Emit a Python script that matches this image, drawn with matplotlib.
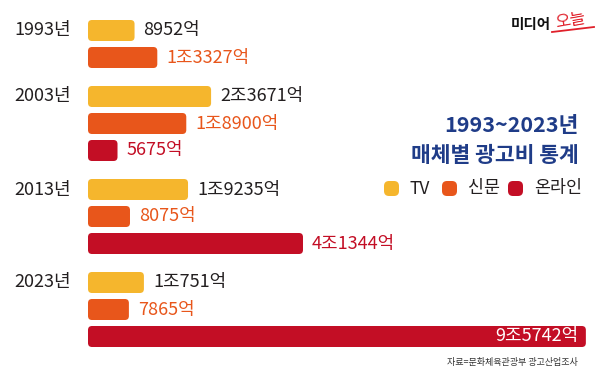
"""Media ad spend 1993-2023 — rounded horizontal bars, Korean labels."""
import matplotlib.pyplot as plt
from matplotlib.patches import FancyBboxPatch

plt.rcParams['font.family'] = ['Noto Sans CJK KR', 'DejaVu Sans']

# data (unit: 억원)
years = ['1993년', '2003년', '2013년', '2023년']
tv = [8952, 23671, 19235, 10751]
newspaper = [13327, 18900, 8075, 7865]
online = [None, 5675, 41344, 95742]  # no online figure for 1993
series_names = ['TV', '신문', '온라인']

COLORS = {
    "tv": "#F5B62D",
    "paper": "#E8561B",
    "online": "#C30E25",
    "text": "#231F20",
    "navy": "#1F3C88",
    "muted": "#333333",
}
SERIES_COLORS = [COLORS["tv"], COLORS["paper"], COLORS["online"]]
LABEL_COLORS = [COLORS["text"], COLORS["paper"], COLORS["online"]]

# layout, in pixels of the 600x390 canvas
W, H = 600, 390
X0 = 88            # where bars start
PX_PER_UNIT = 0.0052
BAR_H = 21
ROW = 27
GROUP_GAP = 39
TOP = 30.5
RADIUS = 4
UNIT_PER_PX = 1 / PX_PER_UNIT
BODY = dict(fontsize=13, fontweight="light")


def won_label(v):
    jo, eok = divmod(v, 10000)
    return f"{jo}조{eok}억" if jo else f"{eok}억"


fig = plt.figure(figsize=(6, 3.9), dpi=100)
fig.patch.set_facecolor("white")
ax = fig.add_axes([0, 0, 1, 1])
ax.set_xlim(-X0 * UNIT_PER_PX, (W - X0) * UNIT_PER_PX)
ax.set_ylim(H, 0)
ax.axis("off")

y = TOP
for gi, year in enumerate(years):
    ax.text(-74 * UNIT_PER_PX, y, year, ha="left", va="center",
            color=COLORS["text"], **BODY)
    vals = [tv[gi], newspaper[gi], online[gi]]
    last = y
    for si, v in enumerate(vals):
        if v is None:
            continue
        rect = ax.barh(y, v, height=BAR_H, left=0)[0]
        rect.set_visible(False)
        box = FancyBboxPatch(
            (rect.get_x(), rect.get_y()), rect.get_width(), rect.get_height(),
            boxstyle=f"round,pad=0,rounding_size={RADIUS * UNIT_PER_PX}",
            mutation_aspect=PX_PER_UNIT,
            facecolor=SERIES_COLORS[si], edgecolor="none",
        )
        ax.add_patch(box)
        if v > 80000:
            ax.text(v - 7 * UNIT_PER_PX, y, won_label(v), ha="right", va="center",
                    color="white", **BODY)
        else:
            ax.text(v + 9 * UNIT_PER_PX, y, won_label(v), ha="left", va="center",
                    color=LABEL_COLORS[si], **BODY)
        last = y
        y += ROW
    y = last + GROUP_GAP

# overlay in plain pixels for title, legend, logo, source
ov = fig.add_axes([0, 0, 1, 1])
ov.set_xlim(0, W)
ov.set_ylim(H, 0)
ov.axis("off")

ov.text(579, 126, "1993~2023년", ha="right", va="center", fontsize=15.5,
        fontweight="bold", color=COLORS["navy"])
ov.text(579, 155, "매체별 광고비 통계", ha="right", va="center", fontsize=15.5,
        fontweight="bold", color=COLORS["navy"])

legend_x = [384, 442, 508]
for lx, name, c in zip(legend_x, series_names, SERIES_COLORS):
    ov.add_patch(FancyBboxPatch((lx, 181), 15, 15,
                                boxstyle="round,pad=0,rounding_size=5",
                                facecolor=c, edgecolor="none"))
    ov.text(lx + 26, 188.5, name, ha="left", va="center", fontsize=12.5,
            fontweight="light", color=COLORS["text"])

# logo
ov.text(511, 24, "미디어", ha="left", va="center", fontsize=10.5,
        fontweight="black", color="#111111")
ov.text(554, 21, "오늘", ha="left", va="center", fontsize=12,
        fontweight="light", color="#E0202A", rotation=10)
ov.plot([552, 594], [32, 27], color="#E0202A", lw=1.3)

ov.text(578, 362, "자료=문화체육관광부 광고산업조사", ha="right", va="center",
        fontsize=6.5, color=COLORS["muted"])

fig.savefig("out.png", dpi=100, facecolor="white")
